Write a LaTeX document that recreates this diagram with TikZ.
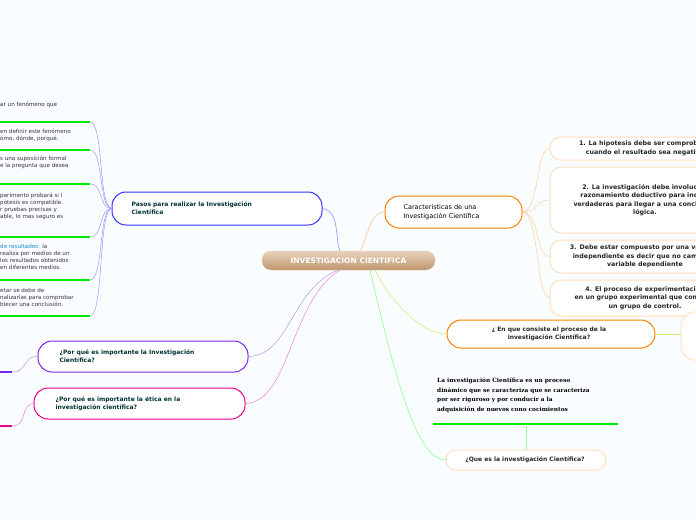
\documentclass[tikz,border=0pt]{standalone}
\usepackage{fontspec}
\setmainfont{DejaVu Sans}
\newfontfamily\serifb{DejaVu Serif}
\definecolor{vio}{RGB}{120,40,230}
\begin{document}
\begin{tikzpicture}[x=1pt,y=-1pt,
 box/.style={draw,rounded corners=14pt,line width=1pt,fill=white,inner sep=0pt},
 lt/.style={font=\fontsize{5.6}{7}\selectfont,anchor=north west,align=left,inner sep=0pt,text=black!80},
 bt/.style={font=\bfseries\fontsize{6}{8}\selectfont,align=center,text=black!85},
 gl/.style={green!80!black!40!green,line width=1.3pt},
 con/.style={line width=0.5pt}]
\fill[cyan!2] (0,0) rectangle (696,520);
\clip (0,0) rectangle (696,520);
% central
\node[rounded corners=9pt,top color=brown!35!white,bottom color=brown!70!white!90!black,minimum width=173pt,minimum height=19pt,text=white,font=\bfseries\fontsize{7.5}{8}\selectfont,draw=brown!40] (c) at (348.5,260.5) {INVESTIGACION CIENTIFICA};
% Pasos
\draw[box,draw=blue!80] (112,192) rectangle (322,225);
\node[font=\bfseries\fontsize{6}{8}\selectfont,align=left,anchor=west,text=teal!40!black] (p) at (128,208.5) {Pasos para realizar la Investigación\\Científica};
\coordinate (pl) at (112,208.5); \coordinate (pr) at (322,208.5);
\draw[con,blue!50] (pr) .. controls (340,210) and (335,240) .. (340,251);
% Caracteristicas
\draw[box,draw=orange] (385,196) rectangle (522,228);
\node[font=\fontsize{6.5}{8.5}\selectfont,align=left,anchor=west] (ca) at (400,212) {Características de una\\Investigación Científica};
\coordinate (cal) at (385,212); \coordinate (car) at (522,212);
\draw[con,orange!50] (cal) .. controls (368,212) and (368,240) .. (360,251);
% right items
\foreach \n/\ya/\yb/\t in {1/137/160/{1. La hipotesis debe ser comprobada\\cuando el resultado sea negativo},
 2/167/233/{2. La investigación debe involucrar\\razonamiento deductivo para incluir\\verdaderas para llegar a una conclusión\\lógica.},
 3/240/273/{3. Debe estar compuesto por una variable\\independiente es decir que no cambie la\\variable dependiente},
 4/280/316/{4. El proceso de experimentación\\en un grupo experimental que compare\\un grupo de control.}}{
 \draw[box,draw=orange!25,line width=1pt,rounded corners=11pt] (550,\ya) rectangle (760,\yb);
 \node[bt,font=\bfseries\fontsize{6.3}{8.5}\selectfont] (r\n) at (645,{(\ya+\yb)/2}) {\t};
 \coordinate (rl\n) at (550,{(\ya+\yb)/2});
 \draw[con,orange!40] (car) .. controls (540,212) and (535,{(\ya+\yb)/2}) .. (rl\n);
}
% en que consiste
\draw[box,draw=orange] (447,320) rectangle (655,348);
\node[bt,font=\bfseries\fontsize{6}{8}\selectfont] (e) at (549,334) {¿ En que consiste el proceso de la\\investigación Científica?};
\coordinate (el) at (447,334); \coordinate (er) at (655,334);
\draw[con,yellow!70!green!60] (el) .. controls (420,334) and (390,300) .. (375,270);
\draw[box,draw=orange!25,rounded corners=14pt] (681,312) rectangle (760,360);
\coordinate (xl) at (681,334);
\draw[con,yellow!70!green!60] (er) -- (xl);
% Que es
\draw[box,draw=orange!25,rounded corners=10pt] (446,450) rectangle (606,470);
\node[bt,font=\bfseries\fontsize{6}{8}\selectfont] (q) at (525,460) {¿Que es la investigación Científica?};
\coordinate (ql) at (446,460);
\draw[con,green!50] (ql) .. controls (420,460) and (400,400) .. (370,270);
\node[font=\serifb\bfseries\fontsize{5.8}{9.5}\selectfont,anchor=north west,align=left,inner sep=0pt] (d) at (437,378) {La investigación Científica es un proceso\\dinámico que se caracteriza que se caracteriza\\por ser riguroso y por conducir a la\\adquisición de nuevos cono cocimientos};
\coordinate (dl) at (433,424); \coordinate (dr) at (618,424); \coordinate (dm) at (526,424);
\draw[gl] (dl) -- (dr);
\draw[con,green!40] (dm) -- (526,450);
% left boxes
\draw[box,draw=vio] (38,341) rectangle (248,372);
\node[font=\bfseries\fontsize{6}{8}\selectfont,align=left,anchor=west,text=teal!40!black] (w1) at (56,356.5) {¿Por qué es importante la Investigación\\Científica?};
\coordinate (w1l) at (38,356.5); \coordinate (w1r) at (248,356.5);
\draw[con,vio!50] (w1r) .. controls (290,356) and (290,290) .. (338,270);
\draw[vio,line width=1.3pt] (0,372) -- (12,372);
\coordinate (w1e) at (12,372);
\draw[con,vio!50] (w1e) .. controls (28,372) and (22,356.5) .. (w1l);
\draw[box,draw=magenta] (34,388) rectangle (245,419);
\node[font=\bfseries\fontsize{6}{8}\selectfont,align=left,anchor=west,text=teal!40!black] (w2) at (52,403.5) {¿Por qué es importante la ética en la\\investigación científica?};
\coordinate (w2l) at (34,403.5); \coordinate (w2r) at (245,403.5);
\draw[con,magenta!50] (w2r) .. controls (290,403) and (290,300) .. (340,270);
\draw[magenta,line width=1.3pt] (0,426) -- (12,426);
\coordinate (w2e) at (12,426);
\draw[con,magenta!50] (w2e) .. controls (28,426) and (20,403.5) .. (w2l);
% left texts
\node[lt] (t1) at (0,102) {ar un fenómeno que};
\node[lt] (t2) at (0,129) {en definir este fenómeno\\ómo, dónde, porqué.};
\node[lt] (t3) at (0,156) {s una suposición formal\\e la pregunta que desea};
\node[lt] (t4) at (0,193) {perimento probará si l\\pótesis es compatible.\\r pruebas precisas y\\able, lo mas seguro es};
\node[lt] (t5) at (0,244) {\textcolor{cyan!70!blue}{de resultados:} la\\realiza por medios de un\\los resultados obtenidos\\en diferentes medios.};
\node[lt] (t6) at (0,288) {etar se debe de\\nalizarlas para comprobar\\blecer una conclusión.};
\foreach \i/\y in {1/122,2/150,3/184,4/237,5/280,6/316}{
 \coordinate (g\i) at (90,\y);
 \draw[gl] (0,\y) -- (g\i);
 \draw[con,blue!40] (g\i) .. controls (104,\y) and (98,208.5) .. (pl);
}
\end{tikzpicture}
\end{document}
